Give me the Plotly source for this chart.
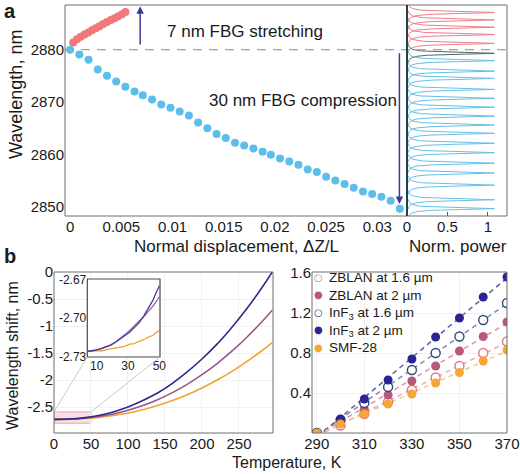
import numpy as np
import plotly.graph_objects as go

W, H = 520, 474
FONT = "Liberation Sans, Arial, sans-serif"
TXT = "#1a1a1a"

def px(x):
    return x / W

def py(y):
    return 1 - y / H

# ---------------- Panel a data ----------------
stretch_x = [0.0003, 0.00067, 0.00104, 0.0014, 0.00177, 0.00214, 0.0025, 0.00287,
             0.00324, 0.0036, 0.00397, 0.00434, 0.0047, 0.00507, 0.0054]
stretch_y = [2881.4, 2882.0, 2882.5, 2882.9, 2883.3, 2883.7, 2884.1, 2884.5,
             2884.9, 2885.3, 2885.7, 2886.0, 2886.4, 2886.8, 2887.2]

compress_x = [0, 0.0009, 0.0018, 0.0027, 0.0036, 0.0045, 0.0054, 0.0063, 0.0071,
              0.0080, 0.0089, 0.0098, 0.0107, 0.0116, 0.0125, 0.0134, 0.0143,
              0.0152, 0.0161, 0.0170, 0.0179, 0.0188, 0.0196, 0.0205, 0.0214,
              0.0223, 0.0232, 0.0241, 0.0250, 0.0259, 0.0268, 0.0277, 0.0286,
              0.0295, 0.0304, 0.0313, 0.0322]
compress_y = [2880.0, 2879.1, 2878.1, 2876.2, 2875.0, 2873.9, 2872.9, 2872.0, 2871.3,
              2870.5, 2869.5, 2868.9, 2868.2, 2867.4, 2866.1, 2865.0, 2863.9,
              2863.1, 2862.2, 2861.7, 2861.1, 2860.5, 2859.9, 2859.2, 2858.6,
              2858.0, 2857.1, 2856.6, 2855.7, 2855.0, 2854.3, 2853.6, 2852.9,
              2852.4, 2851.9, 2851.1, 2849.6]

# spectra peak centres (nm), normalized peak height and width
red_peaks = [2887.1, 2885.7, 2884.3, 2882.9, 2881.2]
blue_peaks = [2879.3, 2877.9, 2875.9, 2874.5, 2872.4, 2870.7, 2869.0, 2867.3, 2865.6,
              2864.0, 2862.1, 2860.3, 2858.3, 2856.4, 2854.1, 2851.3, 2849.6]
peak_height = 1.08
peak_width = 0.2

a_xticks = [0, 0.005, 0.01, 0.015, 0.02, 0.025, 0.03]
a_xticktext = ["0", "0.005", "0.01", "0.015", "0.02", "0.025", "0.03"]
a_yticks = [2850, 2860, 2870, 2880]
p_ticks = [0, 0.5, 1]
p_ticktext = ["0", "0.5", "1"]

# ---------------- Panel b (left) data ----------------
temp = [0, 20, 40, 60, 80, 100, 120, 140, 160, 180, 200, 220, 240, 260, 280, 295]
shift_inf3 = [-2.727, -2.721, -2.700, -2.657, -2.590, -2.500, -2.380, -2.240, -2.060,
              -1.850, -1.610, -1.340, -1.030, -0.690, -0.310, 0.0]
shift_zblan = [-2.727, -2.723, -2.707, -2.675, -2.627, -2.559, -2.472, -2.363, -2.232,
               -2.079, -1.901, -1.699, -1.471, -1.216, -0.935, -0.707]
shift_smf = [-2.727, -2.724, -2.713, -2.691, -2.656, -2.609, -2.548, -2.471, -2.379,
             -2.271, -2.146, -2.004, -1.844, -1.665, -1.467, -1.307]

inset_t = [4, 7, 10, 13, 16, 19, 22, 25, 28, 31, 34, 37, 40, 43, 46, 48, 50]
inset_inf3 = [-2.7262, -2.7258, -2.7249, -2.7240, -2.7228, -2.7212, -2.7190, -2.7165,
              -2.7140, -2.7112, -2.7075, -2.7038, -2.6985, -2.6925, -2.6858, -2.6800,
              -2.6748]
inset_zblan = [-2.7262, -2.7256, -2.7250, -2.7238, -2.7226, -2.7210, -2.7188, -2.7162,
               -2.7130, -2.7098, -2.7065, -2.7025, -2.6990, -2.6950, -2.6905, -2.6870,
               -2.6835]
inset_smf = [-2.7260, -2.7262, -2.7255, -2.7258, -2.7248, -2.7242, -2.7236, -2.7225,
             -2.7222, -2.7205, -2.7200, -2.7182, -2.7170, -2.7150, -2.7135, -2.7112,
             -2.7100]

b_xticks = [0, 50, 100, 150, 200, 250]
b_yticks = [0, -0.5, -1, -1.5, -2, -2.5]
b_yticktext = ["0", "-0.5", "-1", "-1.5", "-2", "-2.5"]
inset_xticks = [10, 30, 50]
inset_yticks = [-2.73, -2.70, -2.67]
inset_yticktext = ["-2.73", "-2.70", "-2.67"]

# ---------------- Panel b (right) data ----------------
t_room = [290, 300, 310, 320, 330, 340, 350, 360, 370]
zblan_16 = [0.0, 0.075, 0.19, 0.31, 0.43, 0.555, 0.67, 0.80, 0.915]
zblan_2 = [0.0, 0.12, 0.24, 0.38, 0.52, 0.67, 0.82, 0.965, 1.11]
inf3_16 = [0.0, 0.13, 0.30, 0.46, 0.63, 0.80, 0.965, 1.13, 1.30]
inf3_2 = [0.0, 0.14, 0.34, 0.53, 0.74, 0.96, 1.15, 1.36, 1.56]
smf28 = [0.0, 0.09, 0.19, 0.29, 0.39, 0.50, 0.605, 0.72, 0.83]
r_xticks = [290, 310, 330, 350, 370]
r_yticks = [0.4, 0.8, 1.2, 1.6]
r_yticktext = ["0.4", "0.8", "1.2", "1.6"]

series_r = [
    ("ZBLAN at 1.6 µm", zblan_16, "#e07882", "#f2aab0", True),
    ("ZBLAN at 2 µm", zblan_2, "#b8587c", "#e392ac", False),
    ("InF<sub>3</sub> at 1.6 µm", inf3_16, "#2f4a7a", "#7d8db0", True),
    ("InF<sub>3</sub> at 2 µm", inf3_2, "#2a2494", "#5b62a4", False),
    ("SMF-28", smf28, "#f5a636", "#f8c784", False),
]

# ---------------- Figure ----------------
fig = go.Figure()

# Panel a: points
fig.add_trace(go.Scatter(x=stretch_x, y=stretch_y, mode="markers",
                         marker=dict(size=8, color="#f07878"), xaxis="x", yaxis="y"))
fig.add_trace(go.Scatter(x=compress_x, y=compress_y, mode="markers",
                         marker=dict(size=8, color="#5cbeea"), xaxis="x", yaxis="y"))

# Panel a: spectra
def add_peak(c, color):
    lam = np.linspace(c - 1.8, c + 1.8, 400)
    p = peak_height / (1 + ((lam - c) / peak_width) ** 2)
    fig.add_trace(go.Scatter(x=p, y=lam, mode="lines", line=dict(color=color, width=1),
                             xaxis="x2", yaxis="y2"))

for c in red_peaks:
    add_peak(c, "#ec8088")
for i, c in enumerate(blue_peaks):
    add_peak(c, "#4f6868" if i == 0 else "#66bfe6")

# Panel b left
for ys, col in [(shift_smf, "#f3a232"), (shift_zblan, "#99568a"), (shift_inf3, "#2c2a8c")]:
    fig.add_trace(go.Scatter(x=temp, y=ys, mode="lines", line=dict(color=col, width=1.6, shape="spline"),
                             xaxis="x3", yaxis="y3"))
for ys, col in [(inset_smf, "#f3a232"), (inset_zblan, "#a0609a"), (inset_inf3, "#4a3aa4")]:
    fig.add_trace(go.Scatter(x=inset_t, y=ys, mode="lines", line=dict(color=col, width=1.3),
                             xaxis="x4", yaxis="y4"))

# Panel b right
for name, ys, col, lcol, is_open in series_r:
    k, b = np.polyfit(t_room, ys, 1)
    xs = np.array([t_room[0], t_room[-1]])
    fig.add_trace(go.Scatter(x=xs, y=k * xs + b, mode="lines",
                             line=dict(color=lcol, width=1.5, dash="5px,4px"),
                             xaxis="x5", yaxis="y5"))
for name, ys, col, lcol, is_open in series_r:
    fig.add_trace(go.Scatter(x=t_room, y=ys, mode="markers",
                             marker=dict(size=9, color="white" if is_open else col,
                                         symbol="circle",
                                         line=dict(color=col, width=1.4 if is_open else 0)),
                             xaxis="x5", yaxis="y5"))

tickfont = dict(size=15, color=TXT, family=FONT)

def ax(domain, anchor, rng, **kw):
    d = dict(domain=domain, anchor=anchor, range=rng, showline=False, zeroline=False,
             showgrid=False, automargin=False, tickfont=tickfont, ticks="")
    d.update(kw)
    return d

ya_dom = [py(216), py(5)]
yb_dom = [py(433), py(272)]
a_yrange = [2848.2, 2888.55]
b3_xr = [0, 296]
b3_yr = [-2.98, 0]

fig.update_layout(
    width=W, height=H, margin=dict(l=0, r=0, t=0, b=0),
    template="none", showlegend=False,
    paper_bgcolor="white", plot_bgcolor="white",
    font=dict(family=FONT, color=TXT),
    xaxis=ax([px(65), px(407)], "y", [-0.0005, 0.0329], tickvals=a_xticks, ticktext=a_xticktext),
    yaxis=ax(ya_dom, "x", a_yrange, tickvals=a_yticks),
    xaxis2=ax([px(407), px(507)], "y2", [0, 1.235], tickvals=p_ticks, ticktext=p_ticktext,
              ticks="inside", ticklen=4, tickcolor="#555"),
    yaxis2=ax(ya_dom, "x2", a_yrange, showticklabels=False),
    xaxis3=ax([px(54), px(273)], "y3", b3_xr, tickvals=b_xticks, showgrid=True,
              gridcolor="#f1f1f1"),
    yaxis3=ax(yb_dom, "x3", b3_yr, tickvals=b_yticks, ticktext=b_yticktext, showgrid=True,
              gridcolor="#f1f1f1"),
    xaxis4=ax([px(87.3), px(160)], "y4", [4, 50.4], tickvals=inset_xticks,
              tickfont=dict(size=12, color=TXT, family=FONT)),
    yaxis4=ax([py(357), py(279)], "x4", [-2.7305, -2.6695], tickvals=inset_yticks,
              ticktext=inset_yticktext, tickfont=dict(size=12, color=TXT, family=FONT)),
    xaxis5=ax([px(312), px(507)], "y5", [288, 370], tickvals=r_xticks, showgrid=True,
              gridcolor="#f1f1f1"),
    yaxis5=ax(yb_dom, "x5", [0, 1.61], tickvals=r_yticks, ticktext=r_yticktext,
              showgrid=True, gridcolor="#f1f1f1"),
)

# ---------------- Shapes ----------------
shapes = []
def rect(x0, y0, x1, y1, color="#6e6e6e", width=1):
    shapes.append(dict(type="rect", xref="paper", yref="paper", x0=px(x0), x1=px(x1),
                       y0=py(y1), y1=py(y0), line=dict(color=color, width=width),
                       fillcolor="rgba(0,0,0,0)", layer="above"))

# dashed 2880 line across panel a
shapes.append(dict(type="line", xref="paper", yref="y", x0=px(65), x1=px(507), y0=2880, y1=2880,
                   line=dict(color="#a3a3a3", width=1.3, dash="9px,7px"), layer="above"))
rect(65, 5, 407, 216)
rect(407, 5, 507, 216)
shapes.append(dict(type="line", xref="paper", yref="paper", x0=px(407), x1=px(407),
                   y0=py(216), y1=py(5), line=dict(color="#22404a", width=2), layer="above"))
rect(54, 272, 273, 433)
rect(312, 272, 507, 433)
rect(87.3, 279, 160, 357, color="#4a4a4a", width=1.2)

# pink zoom box and connectors in panel b left
shapes.append(dict(type="rect", xref="x3", yref="y3", x0=0, x1=50, y0=-2.80, y1=-2.59,
                   fillcolor="rgba(236,160,180,0.35)", line=dict(color="rgba(222,140,160,0.7)", width=1),
                   layer="below"))

def to_x3(pxv):
    return (pxv - 54) / (273 - 54) * (b3_xr[1] - b3_xr[0]) + b3_xr[0]

def to_y3(pyv):
    return b3_yr[1] - (pyv - 272) / (433 - 272) * (b3_yr[1] - b3_yr[0])

shapes.append(dict(type="line", xref="x3", yref="y3", x0=0, y0=-2.59, x1=to_x3(87.3), y1=to_y3(357),
                   line=dict(color="#c9c9c9", width=1)))
shapes.append(dict(type="line", xref="x3", yref="y3", x0=50, y0=-2.59, x1=to_x3(160), y1=to_y3(357),
                   line=dict(color="#c9c9c9", width=1)))
fig.update_layout(shapes=shapes)

# ---------------- Annotations ----------------
anns = []
def ann(text, x, y, size, bold=False, angle=0, xanchor="center", color=TXT, family=FONT,
        align="center"):
    anns.append(dict(text=f"<b>{text}</b>" if bold else text, x=px(x), y=py(y),
                     xref="paper", yref="paper", showarrow=False, textangle=angle,
                     xanchor=xanchor, yanchor="middle", align=align,
                     font=dict(size=size, color=color, family=family)))

ann("a", 10, 11, 20, bold=True)
ann("b", 10, 256, 20, bold=True)
ann("Wavelength, nm", 16, 95, 18, angle=-90)
ann("Normal displacement, ΔZ/L", 236, 247, 17)
ann("Norm. power", 458, 247, 17)
ann("Wavelength shift, nm", 12, 356, 16, angle=-90)
ann("Temperature, K", 287, 462, 16)
ann("7 nm FBG stretching", 245, 32, 17)
ann("30 nm FBG compression", 303, 101, 17)

# legend: one multi-line text block plus coloured glyphs aligned with its lines
LEG_FS = 13.5
leg_center = 312.1
leg_step = LEG_FS * 1.3
ann("<br>".join(s[0] for s in series_r), 327, leg_center, LEG_FS, xanchor="left", align="left")
for i, (name, ys, col, lcol, is_open) in enumerate(series_r):
    ly = leg_center + (i - 2) * leg_step
    ann("○" if is_open else "●", 318.5, ly, 10, color=col, family="DejaVu Sans")

for x_tip, y_tip, y_tail in [(0.00684, 2888.3, 2880.7), (0.03216, 2850.5, 2879.6)]:
    anns.append(dict(x=x_tip, y=y_tip, ax=x_tip, ay=y_tail, xref="x", yref="y",
                     axref="x", ayref="y", text="", showarrow=True, arrowhead=2,
                     arrowsize=1, arrowwidth=1.5, arrowcolor="#3b3a9a"))

fig.update_layout(annotations=anns)

fig.write_html("out.html")
